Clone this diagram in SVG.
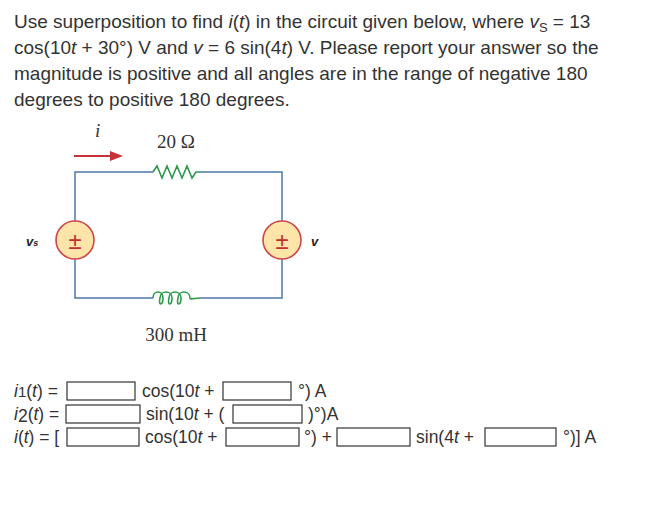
<svg xmlns="http://www.w3.org/2000/svg" width="668" height="528" viewBox="0 0 668 528">
<style>
.t{font-family:"Liberation Sans",Arial,sans-serif;font-size:17.5px;fill:#333}
.h{font-family:"Liberation Sans",Arial,sans-serif;font-size:19px;fill:#333}
.s{font-family:"Liberation Serif","Times New Roman",serif;font-size:19px;fill:#333}
.w{fill:none;stroke:#4a78a8;stroke-width:1.5}
.g{fill:none;stroke:#2a9a4a;stroke-width:1.6}
.src{fill:#fde4a8;stroke:#d0454a;stroke-width:1.6}
.pm{font-family:"Liberation Sans",Arial,sans-serif;font-size:24px;fill:#c03030;text-anchor:middle}
.b{fill:#fff;stroke:#333;stroke-width:1.2}
.lb{font-family:"Liberation Sans",Arial,sans-serif;font-size:13px;font-weight:bold;font-style:italic;fill:#222}
</style>
<rect width="668" height="528" fill="#fff"/>
<text class="h" x="14" y="28">Use superposition to find <tspan font-style="italic">i</tspan>(<tspan font-style="italic">t</tspan>) in the circuit given below, where <tspan font-style="italic">v</tspan><tspan font-size="13" dy="4">S</tspan><tspan dy="-4"> = 13</tspan></text>
<text class="h" x="14" y="54">cos(10<tspan font-style="italic">t</tspan> + 30°) V and <tspan font-style="italic">v</tspan> = 6 sin(4<tspan font-style="italic">t</tspan>) V. Please report your answer so the</text>
<text class="h" x="14" y="80">magnitude is positive and all angles are in the range of negative 180</text>
<text class="h" x="14" y="106">degrees to positive 180 degrees.</text>
<g id="connectors">
<path class="w" d="M75 221 V172 H153 M200 172 H282 V221 M75 259 V298 H153 M200 298 H282 V259"/>
<line x1="74" y1="156" x2="112" y2="156" stroke="#c8313a" stroke-width="2"/>
<polygon points="110,151 123,156 110,161" fill="#c8313a"/>
</g>
<g id="resistor"><polyline class="g" points="153,172 157,166 162,178 167,166 172,178 177,166 182,178 187,166 192,178 196,172 200,172"/>
<text class="s" x="176" y="148" text-anchor="middle">20 Ω</text></g>
<g id="inductor"><path class="g" d="M153 298 C153 290,163 290,163 298 C163 306,158 306,160 298 C160 290,172 290,172 298 C172 306,167 306,169 298 C169 290,181 290,181 298 C181 306,176 306,178 298 C178 290,190 290,190 298 C190 300,195 298,200 298"/>
<text class="s" x="176" y="341" text-anchor="middle">300 mH</text></g>
<g id="vs"><circle class="src" cx="75" cy="240" r="19"/><text class="pm" x="75" y="249">±</text>
<text class="lb" x="26" y="246">v<tspan font-size="9">s</tspan></text></g>
<g id="v"><circle class="src" cx="282" cy="240" r="19"/><text class="pm" x="282" y="249">±</text>
<text class="lb" x="311" y="246">v</text></g>
<text class="s" x="95" y="137" font-style="italic">i</text>
<g id="answers">
<text class="t" x="14" y="397"><tspan font-style="italic">i</tspan><tspan font-size="15">1</tspan>(<tspan font-style="italic">t</tspan>) =</text>
<rect class="b" x="67" y="382" width="68" height="18"/>
<text class="t" x="142" y="397">cos(10<tspan font-style="italic">t</tspan> +</text>
<rect class="b" x="223" y="382" width="68" height="18"/>
<text class="t" x="298" y="397">°) A</text>
<text class="t" x="14" y="420"><tspan font-style="italic">i</tspan><tspan dy="2">2</tspan><tspan dy="-2">(<tspan font-style="italic">t</tspan>) =</tspan></text>
<rect class="b" x="66" y="405" width="74" height="18"/>
<text class="t" x="146" y="420">sin(10<tspan font-style="italic">t</tspan> + (</text>
<rect class="b" x="233" y="405" width="69" height="18"/>
<text class="t" x="308" y="420">)°)A</text>
<text class="t" x="14" y="443"><tspan font-style="italic">i</tspan>(<tspan font-style="italic">t</tspan>) = [</text>
<rect class="b" x="67" y="428" width="72" height="18"/>
<text class="t" x="145" y="443">cos(10<tspan font-style="italic">t</tspan> +</text>
<rect class="b" x="226" y="428" width="73" height="18"/>
<text class="t" x="304" y="443">°) +</text>
<rect class="b" x="337" y="428" width="73" height="18"/>
<text class="t" x="416" y="443">sin(4<tspan font-style="italic">t</tspan> +</text>
<rect class="b" x="485" y="428" width="71" height="18"/>
<text class="t" x="563" y="443">°)] A</text>
</g>
</svg>
